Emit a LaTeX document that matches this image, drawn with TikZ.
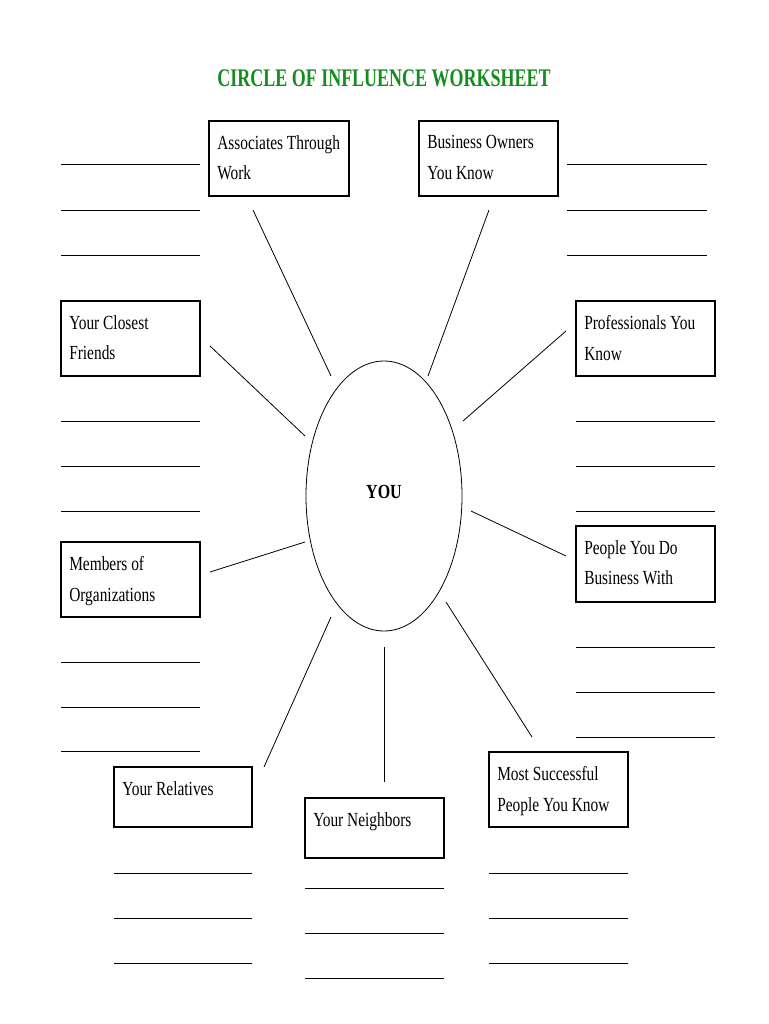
\documentclass[tikz,border=0pt]{standalone}
\usepackage{fontspec}
\setmainfont{Liberation Serif}
\definecolor{titlegreen}{RGB}{20,140,30}
\begin{document}
\begin{tikzpicture}[x=0.75pt,y=-0.75pt,
  box/.style={draw,line width=0.8pt,anchor=north west,minimum width=139*0.75pt,inner sep=0pt},
  lbl/.style={anchor=north west,align=left,font=\fontsize{15}{23}\selectfont,inner sep=0pt},
  blank/.style={line width=0.7pt},
  conn/.style={line width=0.6pt}]
\useasboundingbox (0,0) rectangle (768,1024);
\node[font=\bfseries\fontsize{19}{22}\selectfont,text=titlegreen] (title) at (384,78) {\scalebox{0.71}[1]{CIRCLE OF INFLUENCE WORKSHEET}};
\draw[line width=0.6pt] (384,496) ellipse [x radius=78, y radius=135];
\node[font=\bfseries\fontsize{15}{18}\selectfont] (you) at (384,492) {\scalebox{0.8}[1]{YOU}};
% boxes
\newcommand{\bx}[6]{\draw[line width=0.8pt] (#2,#3) rectangle (#4,#5);
  \node[lbl] (#1) at (#2+8,#3+14) {#6};}
\newcommand{\sq}[1]{\scalebox{0.77}[1]{#1}}
\bx{a}{209}{121}{349}{196}{\sq{Associates Through}\\\sq{Work}}
\bx{b}{419}{121}{558}{196}{\sq{Business Owners}\\\sq{You Know}}
\bx{c}{61}{301}{200}{376}{\sq{Your Closest}\\\sq{Friends}}
\bx{d}{576}{301}{715}{376}{\sq{Professionals You}\\\sq{Know}}
\bx{e}{61}{542}{200}{617}{\sq{Members of}\\\sq{Organizations}}
\bx{f}{576}{526}{715}{602}{\sq{People You Do}\\\sq{Business With}}
\bx{g}{114}{767}{252}{827}{\sq{Your Relatives}}
\bx{h}{305}{798}{444}{858}{\sq{Your Neighbors}}
\bx{i}{489}{752}{628}{827}{\sq{Most Successful}\\\sq{People You Know}}
% blanks
\foreach \xa/\xb/\ys in {61/200/{164,210,255},567/707/{164,210,255},61/200/{421,466,511},576/715/{421,466,511},61/200/{662,707,751},576/715/{647,692,737},114/252/{873,918,963},305/444/{888,933,978},489/628/{873,918,963}}{
  \foreach \y in \ys {\draw[blank] (\xa,\y) -- (\xb,\y);}}
% connectors
\foreach \n/\p/\q in {a/{253,210}/{331,376},b/{489,210}/{428,376},c/{210,346}/{305,436},d/{566,331}/{463,421},e/{210,572}/{305,542},f/{566,556}/{471,511},g/{264,767}/{331,617},h/{384,782}/{384,647},i/{532,737}/{446,602}}{
  \coordinate (\n1) at (\p); \coordinate (\n2) at (\q);
  \draw[conn] (\n1) -- (\n2);}
\end{tikzpicture}
\end{document}
